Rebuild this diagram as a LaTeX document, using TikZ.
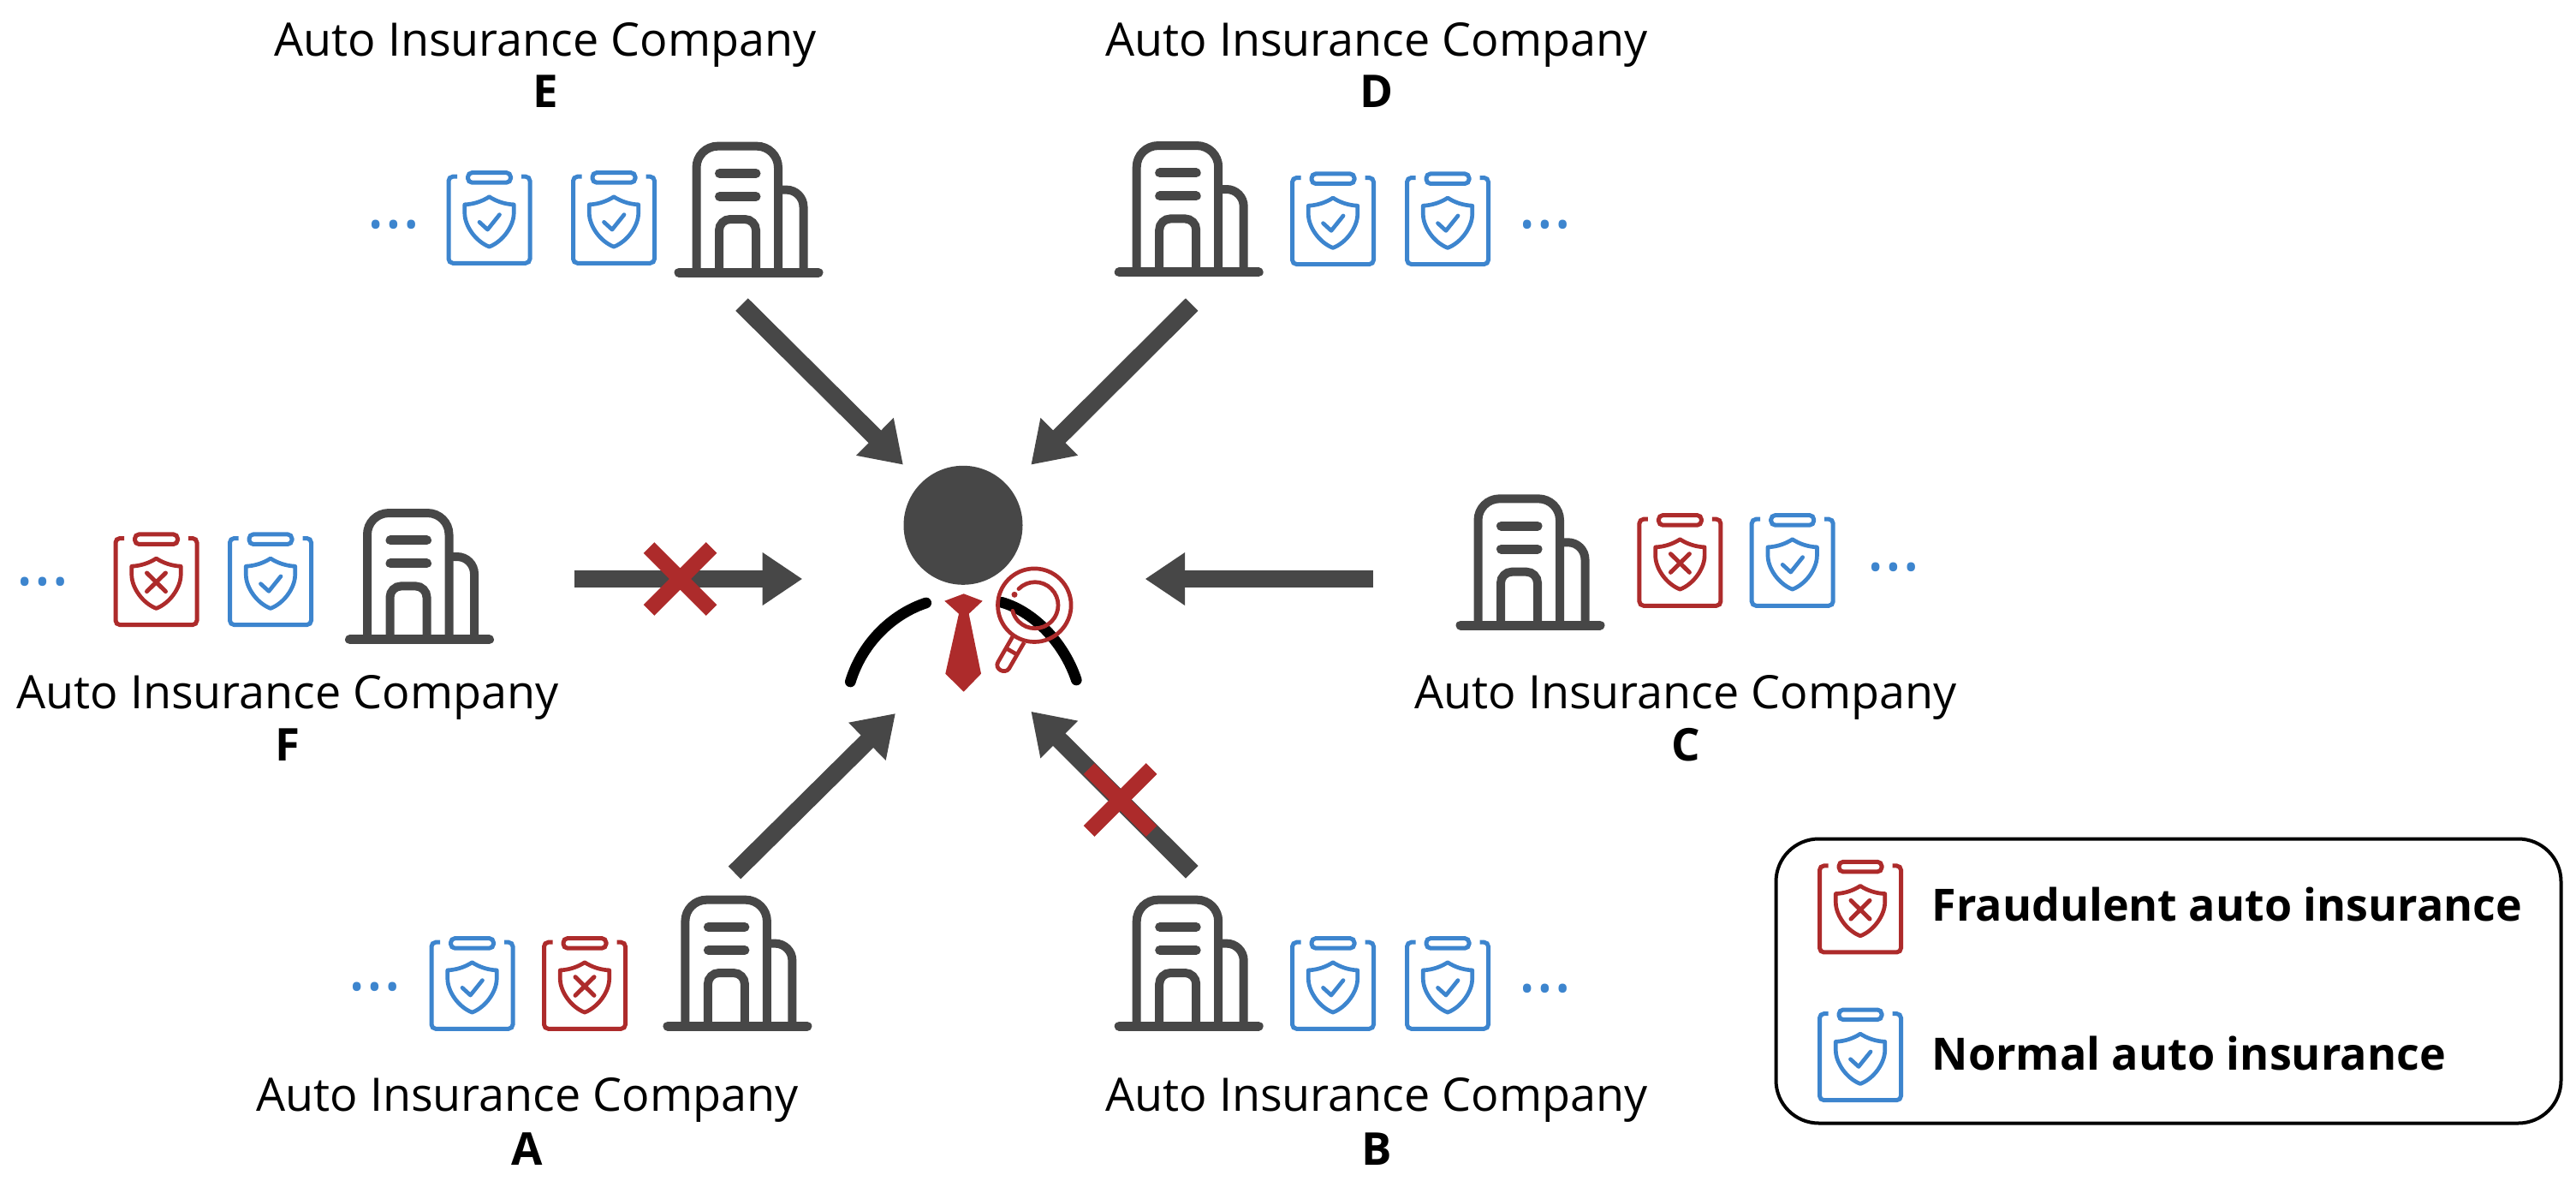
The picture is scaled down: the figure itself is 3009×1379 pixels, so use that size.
\documentclass[tikz,border=0pt]{standalone}
\usepackage{fontspec}
\setmainfont{Open Sans}
\usetikzlibrary{arrows.meta}
\definecolor{insgray}{HTML}{474747}
\definecolor{insred}{HTML}{AD2B2B}
\definecolor{insblue}{HTML}{3D85CE}
\newcommand{\docbody}[1]{%
  \draw[#1,line width=5*0.01cm,rounded corners=0.05cm] (-37.5,-56) -- (-47.5,-56) -- (-47.5,60) -- (47.5,60) -- (47.5,-56) -- (37.5,-56);
  \draw[#1,line width=5*0.01cm,rounded corners=0.05cm] (-25,-61.3) rectangle (25,-48);
  \draw[#1,line width=4.7*0.01cm,line join=round] (0,-29) .. controls (-8,-23) and (-18,-19) .. (-28.7,-18.5) -- (-28.7,-7) .. controls (-28.7,10) and (-16,31) .. (0,38) .. controls (16,31) and (28.7,10) .. (28.7,-7) -- (28.7,-18.5) .. controls (18,-19) and (8,-23) .. (0,-29) -- cycle;
}
\tikzset{
  docok/.pic={\begin{scope}[yscale=0.871]\docbody{insblue}
    \draw[insblue,line width=4.7*0.01cm,line cap=round,line join=round] (-11.5,5) -- (-2,15) -- (12,-5);\end{scope}},
  docbad/.pic={\begin{scope}[yscale=0.871]\docbody{insred}
    \draw[insred,line width=5*0.01cm,line cap=round] (-11,-9.5) -- (11,15.3) (11,-9.5) -- (-11,15.3);\end{scope}},
  tower/.pic={\begin{scope}[yscale=0.871]
    \draw[insgray,line width=10*0.01cm,rounded corners=0.25cm] (-61,0) -- (-61,-169.5) -- (34.5,-169.5) -- (34.5,0);
    \draw[insgray,line width=10*0.01cm,rounded corners=0.2cm] (34.5,-111) -- (64,-111) -- (64,0);
    \draw[insgray,line width=10*0.01cm,rounded corners=0.13cm] (-34.5,0) -- (-34.5,-71.5) -- (8.5,-71.5) -- (8.5,0);
    \draw[insgray,line width=11*0.01cm,line cap=round] (-34,-133) -- (8.5,-133) (-34,-102) -- (8.5,-102);
    \draw[insgray,line width=11*0.01cm,line cap=round] (-81.5,0) -- (81.5,0);\end{scope}},
  flow/.style={insgray,line width=20.6*0.01cm,-{Triangle[length=46.6*0.01cm,width=58.6*0.01cm]}},
  strike/.style={insred,line width=18*0.01cm},
  coname/.style={anchor=base,inner sep=0pt},
  coletter/.style={anchor=base,inner sep=0pt,font=\fontsize{15}{17}\selectfont\bfseries},
  more/.style={anchor=base,inner sep=0pt,text=insblue,font=\fontsize{22.8}{24}\selectfont},
  legendtext/.style={anchor=base west,inner sep=0pt,font=\bfseries},
}
\newcommand{\coname}{\resizebox{6.33cm}{!}{\fontsize{15}{18}\selectfont Auto Insurance Company}}
\begin{document}
\begin{tikzpicture}[x=0.01cm,y=-0.01cm]
\useasboundingbox (0,0) rectangle (3009,1379);
% labels
\node[coname] (tE) at (637,65.5) {\coname};
\node[coletter] (lE) at (637,126) {E};
\node[coname] (tD) at (1608,65.5) {\coname};
\node[coletter] (lD) at (1608,126) {D};
\node[coname] (tF) at (336,827) {\coname};
\node[coletter] (lF) at (336,888) {F};
\node[coname] (tC) at (1969,827) {\coname};
\node[coletter] (lC) at (1969,888) {C};
\node[coname] (tA) at (616,1297) {\coname};
\node[coletter] (lA) at (616,1360) {A};
\node[coname] (tB) at (1608,1297) {\coname};
\node[coletter] (lB) at (1608,1360) {B};
% company E
\node[more] (mE) at (459.5,266) {…};
\pic (e1) at (571.5,255) {docok};
\pic (e2) at (717,255) {docok};
\pic (eb) at (874.5,318.3) {tower};
% company D
\pic (db) at (1388.7,317.7) {tower};
\pic (d1) at (1557,256.3) {docok};
\pic (d2) at (1691,256.3) {docok};
\node[more] (mD) at (1805,266) {…};
% company F
\node[more] (mF) at (50,683) {…};
\pic (f1) at (182.5,677.3) {docbad};
\pic (f2) at (316,677.3) {docok};
\pic (fb) at (490,746.7) {tower};
% company C
\pic (cb) at (1787.5,730) {tower};
\pic (c1) at (1962.4,655) {docbad};
\pic (c2) at (2093.7,655) {docok};
\node[more] (mC) at (2212,666) {…};
% company A
\node[more] (mA) at (437.8,1156) {…};
\pic (a1) at (551.5,1149) {docok};
\pic (a2) at (683,1149) {docbad};
\pic (ab) at (861.4,1198.3) {tower};
% company B
\pic (bb) at (1388.7,1198.3) {tower};
\pic (b1) at (1557,1149) {docok};
\pic (b2) at (1691,1149) {docok};
\node[more] (mB) at (1805,1158) {…};
% inspector
\node[circle,fill=insgray,minimum size=139*0.01cm,inner sep=0pt] (head) at (1125,613.3) {};
\draw[black,line width=12.7*0.01cm,line cap=round] (993.3,796) .. controls (1008,748) and (1045,716) .. (1081.7,704);
\draw[black,line width=12.7*0.01cm,line cap=round] (1170,703.3) .. controls (1205,713) and (1242,748) .. (1257.3,794);
\fill[insred] (1103.3,701.7) -- (1125.7,693.3) -- (1147.7,701.7) -- (1131.7,716.7) -- (1146,786.7) -- (1125.7,807.7) -- (1104.3,786.7) -- (1120,716.7) -- cycle;
\begin{scope}[insred,line width=4.7*0.01cm]
\draw (1208.3,706.7) circle[radius=42.8];
\draw[line cap=round] ([shift={(-135:27)}]1209,706.7) arc[start angle=-135,end angle=166,radius=27];
\fill (1185,694.3) circle[radius=3.5];
\draw (1183.3,742.6) -- (1165.8,773) .. controls (1161,781) and (1174,788) .. (1178.8,780.4) -- (1196.3,750.1);
\draw (1174.5,756.5) -- (1187.5,764);
\end{scope}
% arrows
\coordinate (sE) at (866.5,355.6); \coordinate (hE) at (1055,542.7);
\coordinate (sD) at (1392.2,355.6); \coordinate (hD) at (1204.3,542.7);
\coordinate (sF) at (670.7,676); \coordinate (hF) at (937.3,676);
\coordinate (sC) at (1604,676); \coordinate (hC) at (1337.5,676);
\coordinate (sA) at (858,1019); \coordinate (hA) at (1046,833);
\coordinate (sB) at (1392.3,1018.3); \coordinate (hB) at (1204.3,830.7);
\draw[flow] (sE) -- (hE);
\draw[flow] (sD) -- (hD);
\draw[flow] (sF) -- (hF);
\draw[flow] (sC) -- (hC);
\draw[flow] (sA) -- (hA);
\draw[flow] (sB) -- (hB);
% crosses
\draw[strike] (758,639.5) -- (831,712.5) (831,639.5) -- (758,712.5);
\draw[strike] (1272,897.5) -- (1345,970.5) (1345,897.5) -- (1272,970.5);
% legend
\node[draw=black,line width=4*0.01cm,rounded corners=0.5cm,minimum width=917*0.01cm,minimum height=332*0.01cm,inner sep=0pt] (legend) at (2533,1145.5) {};
\pic (k1) at (2173,1059.7) {docbad};
\pic (k2) at (2173,1232.4) {docok};
\node[legendtext] (kt1) at (2256,1075) {\resizebox{6.89cm}{!}{\fontsize{15}{18}\selectfont\bfseries Fraudulent auto insurance}};
\node[legendtext] (kt2) at (2256,1249) {\resizebox{6.0cm}{!}{\fontsize{15}{18}\selectfont\bfseries Normal auto insurance}};
\end{tikzpicture}
\end{document}
